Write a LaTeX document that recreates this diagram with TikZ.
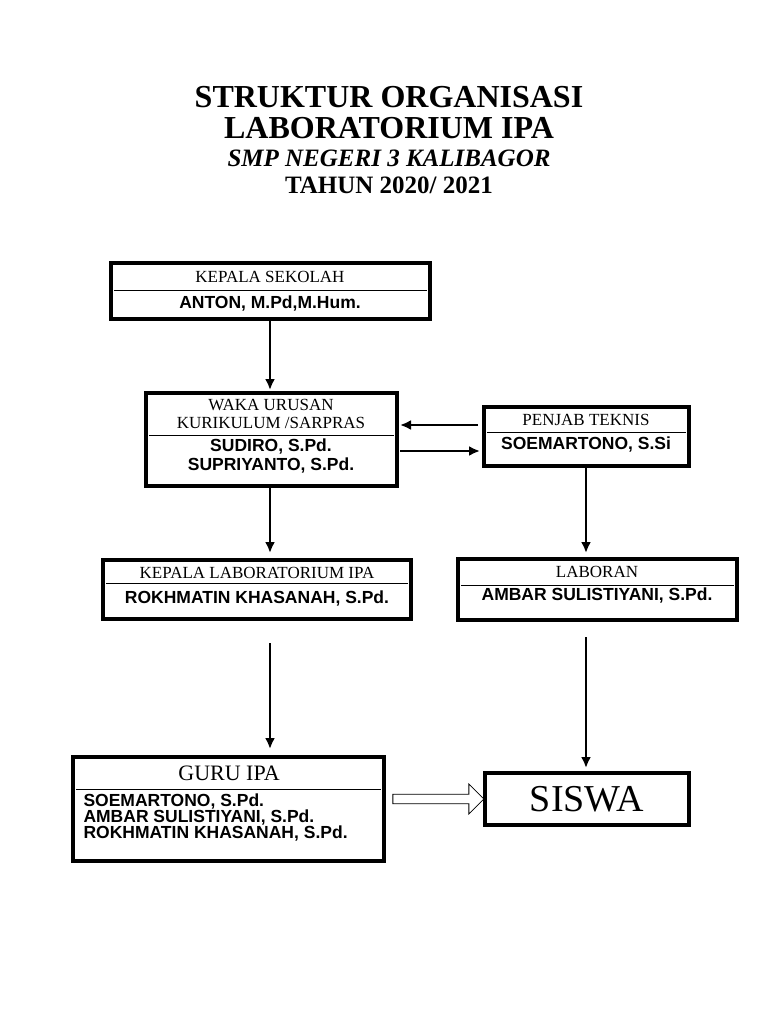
\documentclass[tikz,border=0pt]{standalone}
\usepackage{fontspec}
\setmainfont{Liberation Serif}
\newfontfamily\arial{Liberation Sans}
\usetikzlibrary{arrows.meta,shapes.arrows}
\begin{document}
\begin{tikzpicture}[x=1pt,y=-1pt,
  box/.style={draw,line width=4pt},
  arr/.style={line width=2.6pt,-{Latex[length=11pt,width=10pt]}},
  hd/.style={font=\fontsize{17}{17.5}\selectfont,align=center},
  nm/.style={font=\arial\bfseries\fontsize{17.5}{19}\selectfont,align=center}]
\useasboundingbox (0,0) rectangle (768,1024);
\node[font=\bfseries\fontsize{32}{34}\selectfont] (t1) at (389,97) {STRUKTUR ORGANISASI};
\node[font=\bfseries\fontsize{32}{34}\selectfont] (t2) at (389,128) {LABORATORIUM IPA};
\node[font=\bfseries\itshape\fontsize{25}{27}\selectfont] (t3) at (389,158) {SMP NEGERI 3 KALIBAGOR};
\node[font=\bfseries\fontsize{25}{27}\selectfont] (t4) at (389,185) {TAHUN 2020/ 2021};
% boxes
\draw[box] (111,263) rectangle (430,319); \draw (114,290)--(427,290);
\node[hd] (ks) at (270,277) {KEPALA SEKOLAH};
\node[nm] (ksn) at (270,304) {ANTON, M.Pd,M.Hum.};
\draw[box] (146,393) rectangle (397,486); \draw (149,435)--(394,435);
\node[hd] (wk) at (271,414) {WAKA URUSAN\\KURIKULUM /SARPRAS};
\node[nm] (wkn) at (271,456) {SUDIRO, S.Pd.\\SUPRIYANTO, S.Pd.};
\draw[box] (484,407) rectangle (689,466); \draw (487,432)--(686,432);
\node[hd] (pj) at (586,420) {PENJAB TEKNIS};
\node[nm] (pjn) at (586,445) {SOEMARTONO, S.Si};
\draw[box] (103,560) rectangle (411,619); \draw (106,583)--(408,583);
\node[hd] (kl) at (257,573) {KEPALA LABORATORIUM IPA};
\node[nm] (kln) at (257,599) {ROKHMATIN KHASANAH, S.Pd.};
\draw[box] (458,559) rectangle (737,620); \draw (461,585)--(734,585);
\node[hd] (lb) at (597,572) {LABORAN};
\node[nm] (lbn) at (597,596) {AMBAR SULISTIYANI, S.Pd.};
\draw[box] (73,757) rectangle (384,861); \draw (76,789)--(381,789);
\node[hd,font=\fontsize{22}{24}\selectfont] (gu) at (229,773) {GURU IPA};
\node[nm,align=left,anchor=west,font=\arial\bfseries\fontsize{17.5}{16}\selectfont] (gun) at (80,818) {SOEMARTONO, S.Pd.\\AMBAR SULISTIYANI, S.Pd.\\ROKHMATIN KHASANAH, S.Pd.};
\draw[box] (485,773) rectangle (689,825);
\node[font=\fontsize{38}{40}\selectfont] (sw) at (587,799) {SISWA};
% arrows
\coordinate (a1) at (270,320); \coordinate (a2) at (270,390);
\draw[arr] (a1)--(a2);
\coordinate (b1) at (478,425); \coordinate (b2) at (400,425);
\draw[arr] (b1)--(b2);
\coordinate (c1) at (400,451); \coordinate (c2) at (480,451);
\draw[arr] (c1)--(c2);
\coordinate (d1) at (270,487); \coordinate (d2) at (270,553);
\draw[arr] (d1)--(d2);
\coordinate (e1) at (586,468); \coordinate (e2) at (586,553);
\draw[arr] (e1)--(e2);
\coordinate (f1) at (270,643); \coordinate (f2) at (270,749);
\draw[arr] (f1)--(f2);
\coordinate (g1) at (586,637); \coordinate (g2) at (586,768);
\draw[arr] (g1)--(g2);
\node[draw,single arrow,minimum width=30pt,single arrow head extend=3pt,minimum height=91pt,inner sep=1pt,line width=0.8pt] (ha) at (436,799) {};
\end{tikzpicture}
\end{document}
